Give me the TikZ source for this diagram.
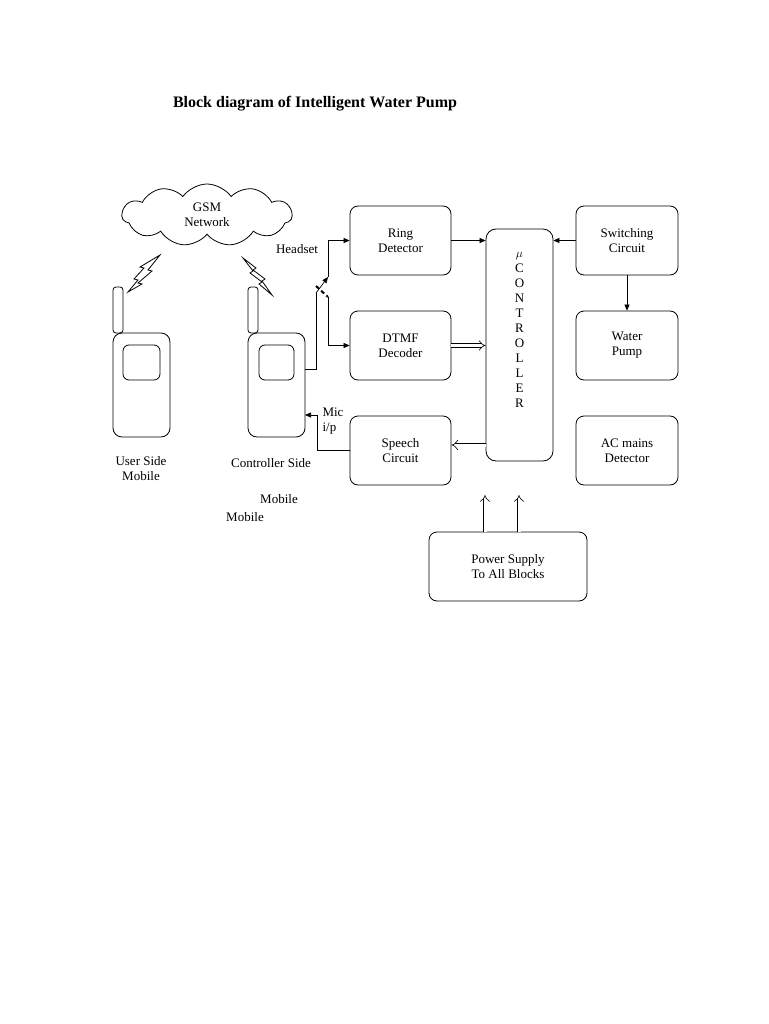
\documentclass[tikz,border=0pt]{standalone}
\usepackage{fontspec}
\setmainfont{Liberation Serif}
\usetikzlibrary{arrows.meta,shapes.symbols}
\tikzset{
  blk/.style={draw,rounded corners=8pt,align=center,line width=0.8pt},
  arr/.style={-{Triangle[length=6pt,width=5pt]},line width=0.7pt},
  dbl/.style={double,double distance=3pt,line width=0.6pt,-{Implies}},
  lbl/.style={inner sep=0pt,align=center}
}
\begin{document}
\begin{tikzpicture}[x=1pt,y=-1pt,font=\fontsize{13}{15}\selectfont]
\useasboundingbox (0,0) rectangle (768,1024);
% title
\node[lbl,font=\fontsize{16}{18}\selectfont\bfseries] (title) at (315,104) {Block diagram of Intelligent Water Pump};
% blocks
\node[blk,minimum width=101pt,minimum height=69pt] (ring) at (400.5,240.5) {Ring\\Detector};
\node[blk,minimum width=101pt,minimum height=69pt] (dtmf) at (400.5,345.5) {DTMF\\Decoder};
\node[blk,minimum width=101pt,minimum height=69pt] (speech) at (400.5,450.5) {Speech\\Circuit};
\node[blk,minimum width=102pt,minimum height=69pt] (switch) at (627,240.5) {Switching\\Circuit};
\node[blk,minimum width=102pt,minimum height=69pt] (pump) at (627,345.5) {Water\\Pump};
\node[blk,minimum width=102pt,minimum height=69pt] (acmains) at (627,450.5) {AC mains\\Detector};
\node[blk,minimum width=158pt,minimum height=69pt] (power) at (508,566.5) {Power Supply\\To All Blocks};
\node[blk,minimum width=67pt,minimum height=232pt,rounded corners=10pt] (ctrl) at (519.5,345) {};
\node[lbl,anchor=north] (ctrltext) at (519.5,252) {$\mu$\\C\\O\\N\\T\\R\\O\\L\\L\\E\\R};
% cloud
\node[draw,cloud,cloud puffs=11,cloud puff arc=110,aspect=2.8,minimum width=170pt,minimum height=62pt,align=center,line width=0.8pt] (gsm) at (207,215) {GSM\\Network};
% mobiles
\draw[line width=0.8pt,rounded corners=3pt] (113,333) rectangle (123,287);
\draw[line width=0.8pt,rounded corners=9pt] (113,333) rectangle (170,437);
\draw[line width=0.8pt,rounded corners=6pt] (123,345) rectangle (160,380);
\draw[line width=0.8pt,rounded corners=3pt] (248,333) rectangle (258,287);
\draw[line width=0.8pt,rounded corners=9pt] (248,333) rectangle (305,437);
\draw[line width=0.8pt,rounded corners=6pt] (259,345) rectangle (294,380);
% lightning
\draw[line width=0.8pt] (160,255) -- (148,270) -- (152,271) -- (138,283) -- (142,284) -- (128,292) -- (138,280) -- (134,279) -- (144,268) -- (140,267) -- cycle;
\draw[line width=0.8pt] (243,258) -- (256,268) -- (253,270) -- (265,279) -- (262,281) -- (272,295) -- (259,284) -- (262,282) -- (250,273) -- (253,271) -- cycle;
% connections
\coordinate (hs0) at (305,369);
\coordinate (hs1) at (316,369);
\coordinate (hs2) at (316,293);
\coordinate (swA) at (328,277);
\coordinate (swB) at (328,297);
\draw[line width=0.8pt] (hs0) -- (hs1) -- (hs2);
\draw[arr] (hs2) -- (swA);
\draw[line width=2pt,dash pattern=on 4pt off 3pt] (316,286) -- (swB);
\draw[arr] (swA) |- (ring.west);
\draw[arr] (swB) |- (dtmf.west);
\draw[arr] (speech.west) -| (317,415) -- (305,415);
\draw[arr] (ring.east) -- (ctrl.west |- ring.east);
\draw[arr] (switch.west) -- (ctrl.east |- switch.west);
\draw[arr] (switch.south) -- (pump.north);
\draw[dbl] (dtmf.east) -- (ctrl.west |- dtmf.east);
\draw[dbl] (ctrl.west |- 0,445) -- (speech.east |- 0,445);
\draw[dbl] (power.north -| 485,0) -- (485,495);
\draw[dbl] (power.north -| 519,0) -- (519,495);
% labels
\node[lbl] (headset) at (297,249) {Headset};
\node[lbl,align=left] (mic) at (333,421) {Mic\\i/p};
\node[lbl] (usermob) at (141,469) {User Side\\Mobile};
\node[lbl] (ctrlmob) at (271,463) {Controller Side};
\node[lbl] (mob1) at (279,499) {Mobile};
\node[lbl] (mob2) at (245,517) {Mobile};
\end{tikzpicture}
\end{document}
